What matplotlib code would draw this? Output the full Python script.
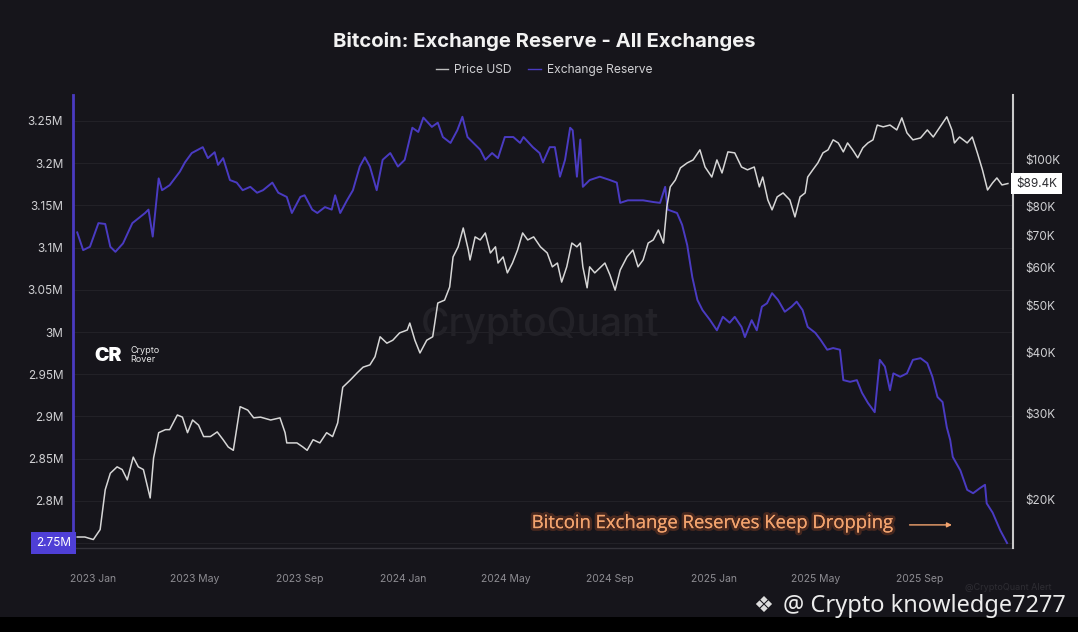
import matplotlib.pyplot as plt
import matplotlib.dates as mdates
import matplotlib.patheffects as pe
from matplotlib.patches import Rectangle
from matplotlib.ticker import FixedLocator, FixedFormatter, NullLocator
from matplotlib.transforms import blended_transform_factory
import pandas as pd

# values
reserve_dates = [
    '2022-12-13', '2022-12-20', '2022-12-28', '2023-01-07', '2023-01-15', '2023-01-21', '2023-01-27',
    '2023-02-05', '2023-02-16', '2023-03-03', '2023-03-07', '2023-03-12', '2023-03-19', '2023-03-23',
    '2023-04-01', '2023-04-13', '2023-04-19', '2023-04-27', '2023-05-10', '2023-05-16', '2023-05-24',
    '2023-05-28', '2023-06-03', '2023-06-11', '2023-06-19', '2023-06-26', '2023-07-05', '2023-07-13',
    '2023-07-20', '2023-07-31', '2023-08-07', '2023-08-17', '2023-08-23', '2023-09-02', '2023-09-07',
    '2023-09-16', '2023-09-22', '2023-10-01', '2023-10-09', '2023-10-13', '2023-10-19', '2023-10-27',
    '2023-11-03', '2023-11-11', '2023-11-17', '2023-11-23', '2023-12-01', '2023-12-08', '2023-12-17',
    '2023-12-26',
    '2024-01-03', '2024-01-12', '2024-01-19', '2024-01-25', '2024-02-04', '2024-02-11', '2024-02-17',
    '2024-02-26', '2024-03-05', '2024-03-11', '2024-03-17', '2024-03-24', '2024-04-01', '2024-04-07',
    '2024-04-15', '2024-04-22', '2024-04-30', '2024-05-10', '2024-05-18', '2024-05-22', '2024-06-02',
    '2024-06-10', '2024-06-14', '2024-06-22', '2024-06-28', '2024-07-04', '2024-07-10', '2024-07-16',
    '2024-07-19', '2024-07-24', '2024-07-28', '2024-07-31', '2024-08-08', '2024-08-20', '2024-09-01',
    '2024-09-09', '2024-09-13', '2024-09-22', '2024-10-10', '2024-10-22', '2024-10-30', '2024-11-05',
    '2024-11-08', '2024-11-19', '2024-11-25', '2024-12-01', '2024-12-07', '2024-12-13', '2024-12-19',
    '2024-12-28',
    '2025-01-05', '2025-01-12', '2025-01-20', '2025-01-26', '2025-02-03', '2025-02-07', '2025-02-15',
    '2025-02-21', '2025-02-27', '2025-03-05', '2025-03-11', '2025-03-18', '2025-03-26', '2025-04-03',
    '2025-04-09', '2025-04-16', '2025-04-22', '2025-05-01', '2025-05-07', '2025-05-15', '2025-05-22',
    '2025-05-30', '2025-06-03', '2025-06-11', '2025-06-19', '2025-06-25', '2025-07-02', '2025-07-10',
    '2025-07-16', '2025-07-22', '2025-07-28', '2025-08-01', '2025-08-09', '2025-08-17', '2025-08-24',
    '2025-09-02', '2025-09-10', '2025-09-16', '2025-09-22', '2025-09-28', '2025-10-03', '2025-10-07',
    '2025-10-10', '2025-10-19', '2025-10-27', '2025-11-03', '2025-11-11', '2025-11-17', '2025-11-19',
    '2025-11-26', '2025-12-05', '2025-12-13',
]
reserve_m = [
    3.118, 3.097, 3.101, 3.129, 3.128, 3.101, 3.095, 3.105, 3.129, 3.141,
    3.145, 3.113, 3.182, 3.168, 3.174, 3.190, 3.201, 3.212, 3.219, 3.206,
    3.213, 3.198, 3.206, 3.180, 3.177, 3.168, 3.172, 3.165, 3.168, 3.177,
    3.165, 3.160, 3.141, 3.160, 3.162, 3.145, 3.141, 3.148, 3.145, 3.162,
    3.141, 3.156, 3.168, 3.196, 3.207, 3.196, 3.168, 3.204, 3.212, 3.196,
    3.204, 3.242, 3.237, 3.254, 3.243, 3.248, 3.231, 3.224, 3.239, 3.255,
    3.231, 3.224, 3.216, 3.204, 3.212, 3.206, 3.231, 3.231, 3.224, 3.231,
    3.219, 3.212, 3.201, 3.219, 3.219, 3.184, 3.204, 3.242, 3.239, 3.184,
    3.228, 3.172, 3.180, 3.184, 3.180, 3.177, 3.153, 3.156, 3.156, 3.154,
    3.153, 3.172, 3.145, 3.141, 3.127, 3.103, 3.065, 3.038, 3.026, 3.014,
    3.002, 3.018, 3.011, 3.018, 3.006, 2.994, 3.014, 3.002, 3.030, 3.034,
    3.046, 3.038, 3.024, 3.030, 3.036, 3.026, 3.006, 2.999, 2.991, 2.979,
    2.981, 2.979, 2.943, 2.941, 2.943, 2.928, 2.916, 2.905, 2.967, 2.959,
    2.931, 2.951, 2.947, 2.951, 2.967, 2.969, 2.963, 2.947, 2.923, 2.917,
    2.887, 2.872, 2.852, 2.836, 2.813, 2.809, 2.815, 2.819, 2.797, 2.786,
    2.765, 2.750,
]

price_dates = [
    '2022-12-13', '2022-12-22', '2023-01-01', '2023-01-09', '2023-01-15', '2023-01-21', '2023-01-29',
    '2023-02-04', '2023-02-10', '2023-02-17', '2023-02-23', '2023-03-01', '2023-03-09', '2023-03-13',
    '2023-03-19', '2023-03-27', '2023-04-01', '2023-04-10', '2023-04-16', '2023-04-22', '2023-04-28',
    '2023-05-05', '2023-05-11', '2023-05-19', '2023-05-27', '2023-06-03', '2023-06-09', '2023-06-15',
    '2023-06-23', '2023-07-02', '2023-07-09', '2023-07-17', '2023-07-29', '2023-08-09', '2023-08-15',
    '2023-08-17', '2023-08-29', '2023-09-05', '2023-09-10', '2023-09-17', '2023-09-25', '2023-10-03',
    '2023-10-10', '2023-10-16', '2023-10-22', '2023-10-31', '2023-11-08', '2023-11-15', '2023-11-23',
    '2023-11-29', '2023-12-05', '2023-12-13', '2023-12-20', '2023-12-28',
    '2024-01-06', '2024-01-09', '2024-01-15', '2024-01-21', '2024-01-29', '2024-02-05', '2024-02-11',
    '2024-02-19', '2024-02-25', '2024-02-29', '2024-03-06', '2024-03-12', '2024-03-18', '2024-03-20',
    '2024-03-26', '2024-04-01', '2024-04-07', '2024-04-13', '2024-04-19', '2024-04-22', '2024-04-28',
    '2024-05-03', '2024-05-09', '2024-05-15', '2024-05-21', '2024-05-27', '2024-06-03', '2024-06-11',
    '2024-06-19', '2024-06-25', '2024-07-01', '2024-07-06', '2024-07-12', '2024-07-18', '2024-07-24',
    '2024-07-28', '2024-07-31', '2024-08-05', '2024-08-08', '2024-08-14', '2024-08-20', '2024-08-26',
    '2024-09-01', '2024-09-07', '2024-09-13', '2024-09-21', '2024-09-28', '2024-10-04', '2024-10-10',
    '2024-10-16', '2024-10-22', '2024-10-28', '2024-11-03', '2024-11-07', '2024-11-11', '2024-11-17',
    '2024-11-23', '2024-12-01', '2024-12-08', '2024-12-16', '2024-12-22', '2024-12-30',
    '2025-01-05', '2025-01-11', '2025-01-18', '2025-01-26', '2025-02-03', '2025-02-10', '2025-02-18',
    '2025-02-24', '2025-02-28', '2025-03-06', '2025-03-11', '2025-03-17', '2025-03-24', '2025-04-01',
    '2025-04-07', '2025-04-13', '2025-04-19', '2025-04-22', '2025-04-28', '2025-05-04', '2025-05-10',
    '2025-05-16', '2025-05-22', '2025-05-28', '2025-06-03', '2025-06-08', '2025-06-14', '2025-06-20',
    '2025-06-26', '2025-07-02', '2025-07-08', '2025-07-13', '2025-07-20', '2025-07-28', '2025-08-05',
    '2025-08-11', '2025-08-17', '2025-08-24', '2025-09-02', '2025-09-10', '2025-09-17', '2025-09-25',
    '2025-10-03', '2025-10-09', '2025-10-12', '2025-10-18', '2025-10-27', '2025-11-02', '2025-11-08',
    '2025-11-14', '2025-11-20', '2025-11-26', '2025-12-01', '2025-12-07', '2025-12-14',
]
price_k = [
    16.7, 16.7, 16.5, 17.3, 20.9, 22.6, 23.3, 23.0, 21.9, 24.4,
    23.3, 23.0, 20.1, 24.3, 27.4, 27.8, 27.8, 29.8, 29.5, 27.4,
    29.1, 28.4, 26.9, 26.9, 27.5, 26.5, 25.6, 25.2, 31.0, 30.5,
    29.4, 29.5, 29.1, 29.4, 27.4, 26.1, 26.1, 25.6, 25.2, 26.5,
    26.1, 27.4, 26.9, 28.7, 34.0, 35.2, 36.4, 37.4, 37.8, 39.3,
    43.2, 41.9, 42.5, 44.0, 44.6, 46.1, 42.5, 40.0, 42.5, 43.2,
    50.7, 51.4, 54.7, 63.1, 66.2, 72.4, 65.2, 62.2, 69.4, 68.4,
    70.7, 64.3, 66.2, 61.3, 63.1, 58.5, 61.3, 65.2, 70.7, 68.4,
    69.4, 66.2, 64.3, 60.2, 61.3, 56.0, 60.2, 67.4, 66.2, 67.4,
    60.2, 54.5, 60.2, 58.5, 59.9, 61.3, 57.9, 53.9, 59.3, 63.1,
    65.2, 60.2, 62.2, 67.4, 68.4, 71.7, 67.4, 80.0, 88.0, 90.9,
    96.3, 98.6, 100.0, 104.9, 96.7, 92.2, 100.0, 94.0, 103.9, 103.4,
    96.7, 95.4, 96.7, 88.0, 92.2, 82.7, 78.9, 83.9, 85.5, 82.7,
    76.3, 83.9, 85.5, 92.2, 95.4, 98.6, 103.4, 104.9, 110.0, 108.4,
    103.9, 108.4, 104.9, 101.0, 105.9, 108.4, 110.0, 118.0, 117.0, 118.0,
    115.3, 122.1, 113.7, 110.0, 111.0, 115.3, 111.5, 117.0, 122.7, 115.3,
    108.4, 111.5, 108.4, 111.5, 103.4, 95.4, 86.7, 89.7, 91.8, 88.8,
    89.4,
]

reserve_ticks = [2.75, 2.8, 2.85, 2.9, 2.95, 3.0, 3.05, 3.1, 3.15, 3.2, 3.25]
reserve_tick_labels = ['', '2.8M', '2.85M', '2.9M', '2.95M', '3M', '3.05M', '3.1M', '3.15M', '3.2M', '3.25M']
price_ticks = [20, 30, 40, 50, 60, 70, 80, 100]
price_tick_labels = ['$20K', '$30K', '$40K', '$50K', '$60K', '$70K', '$80K', '$100K']
month_ticks = ['2023-01-01', '2023-05-01', '2023-09-01', '2024-01-01', '2024-05-01',
               '2024-09-01', '2025-01-01', '2025-05-01', '2025-09-01']

BG = '#16151b'
PURPLE = '#4a3bc2'
PRICE = '#d6d6d6'
TXT = '#cfcfd2'

plt.rcParams['font.family'] = ['Inter', 'DejaVu Sans']

fig = plt.figure(figsize=(10.78, 6.32), dpi=100, facecolor=BG)
ax = fig.add_axes([0.0677, 0.1329, 0.872, 0.7168])
ax.set_facecolor(BG)
ax2 = ax.twinx()

rd = pd.to_datetime(reserve_dates)
pdt = pd.to_datetime(price_dates)

ax.plot(rd, reserve_m, color=PURPLE, linewidth=1.4, zorder=3)
ax2.plot(pdt, price_k, color=PRICE, linewidth=1.1, zorder=3)

ax.set_xlim(pd.Timestamp('2022-12-08'), pd.Timestamp('2025-12-20'))
ax.set_ylim(2.7441, 3.2808)
ax2.set_yscale('log')
ax2.set_ylim(15.85, 136.1)

# left axis
ax.yaxis.set_major_locator(FixedLocator(reserve_ticks))
ax.yaxis.set_major_formatter(FixedFormatter(reserve_tick_labels))
ax.yaxis.set_minor_locator(NullLocator())
ax.tick_params(axis='y', length=0, pad=7, labelsize=8.5, labelcolor=TXT)
ax.grid(axis='y', color='#222127', linewidth=0.8)
ax.set_axisbelow(True)

# right axis
ax2.yaxis.set_major_locator(FixedLocator(price_ticks))
ax2.yaxis.set_major_formatter(FixedFormatter(price_tick_labels))
ax2.yaxis.set_minor_locator(NullLocator())
ax2.tick_params(axis='y', length=0, pad=9, labelsize=8.5, labelcolor=TXT)

# x axis
ax.xaxis.set_major_locator(FixedLocator(mdates.date2num(pd.to_datetime(month_ticks))))
ax.xaxis.set_major_formatter(mdates.DateFormatter('%Y %b'))
ax.tick_params(axis='x', length=0, pad=19, labelsize=7.5, labelcolor='#8d8c92')

for s in ['top', 'right']:
    ax.spines[s].set_visible(False)
ax.spines['left'].set_color(PURPLE)
ax.spines['left'].set_linewidth(2)
ax.spines['bottom'].set_color('#34333a')
ax.spines['bottom'].set_linewidth(1)
for s in ['top', 'left', 'bottom']:
    ax2.spines[s].set_visible(False)
ax2.spines['right'].set_color('#c9c9c9')
ax2.spines['right'].set_linewidth(1.5)

# last value boxes
tl = blended_transform_factory(ax.transAxes, ax.transData)
ax.text(-0.002, reserve_m[-1], '2.75M', transform=tl, ha='right', va='center',
        fontsize=8.5, color='white', zorder=5,
        bbox=dict(facecolor='#4f3fd6', edgecolor='none', boxstyle='square,pad=0.45'))
tr = blended_transform_factory(ax2.transAxes, ax2.transData)
ax2.text(1.003, price_k[-1], '$89.4K', transform=tr, ha='left', va='center',
         fontsize=8.5, color='#2a2a2e', zorder=5,
         bbox=dict(facecolor='white', edgecolor='none', boxstyle='square,pad=0.4'))

# watermarks
ax.text(0.497, 0.492, 'CryptoQuant', transform=ax.transAxes, ha='center', va='center',
        fontsize=28, color='#232228', zorder=0, fontweight='medium')
ax.text(0.037, 0.424, 'CR', transform=ax.transAxes, ha='center', va='center',
        fontsize=14, fontweight='black', color='white', zorder=4)
ax.text(0.061, 0.426, 'Crypto\nRover', transform=ax.transAxes, ha='left', va='center',
        fontsize=6.5, color='#e6e6e6', linespacing=1.0, zorder=4)

# annotation
glow = [pe.withStroke(linewidth=4, foreground='#d9602a', alpha=0.25), pe.Normal()]
ax.text(0.488, 0.055, 'Bitcoin Exchange Reserves Keep Dropping', transform=ax.transAxes,
        ha='left', va='center', fontsize=13.3, family=['Open Sans', 'DejaVu Sans'],
        color='#f2a36e', path_effects=glow, zorder=6)
ax.annotate('', xy=(0.938, 0.051), xytext=(0.887, 0.051), xycoords='axes fraction',
            arrowprops=dict(arrowstyle='-|>', color='#f2a36e', lw=1, mutation_scale=7))

# title and legend
fig.text(0.5046, 0.935, 'Bitcoin: Exchange Reserve - All Exchanges', ha='center', va='center',
         fontsize=14.6, fontweight='bold', color='#f2f2f2')
h1, = ax.plot([], [], color='#bdbdbd', linewidth=1)
h2, = ax.plot([], [], color=PURPLE, linewidth=1)
fig.legend([h1, h2], ['Price USD', 'Exchange Reserve'], loc='center', bbox_to_anchor=(0.5046, 0.889),
           ncol=2, frameon=False, fontsize=8.7, labelcolor=TXT, handlelength=1.0,
           handletextpad=0.5, columnspacing=1.4)

# bottom strip and overlay watermark
fig.add_artist(Rectangle((0, 0), 1, 0.024, transform=fig.transFigure, facecolor='black',
                         edgecolor='none'))
fig.text(0.935, 0.07, '@CryptoQuant Alert', ha='center', va='center', fontsize=6.5, color='#2e2d33')
fig.text(0.708, 0.041, '❖', ha='center', va='center', fontsize=16, color='#dcdcdc',
         family='DejaVu Sans')
fig.text(0.7263, 0.041, '@ Crypto knowledge7277', ha='left', va='center', fontsize=17,
         family=['Noto Sans', 'DejaVu Sans'], color='#ececec')

fig.savefig('out.png', dpi=100, facecolor=BG)
